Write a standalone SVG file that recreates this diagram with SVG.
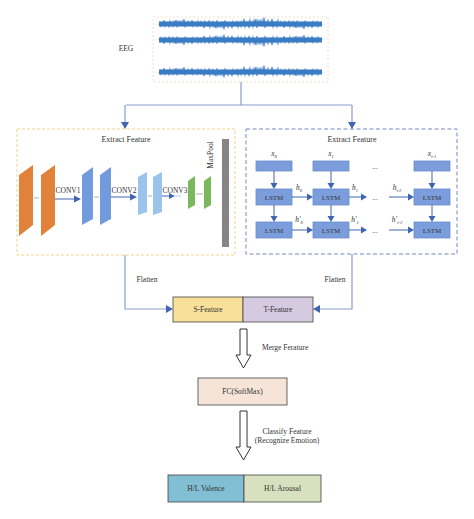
<svg xmlns="http://www.w3.org/2000/svg" width="474" height="519" viewBox="0 0 474 519">
<style>
text{font-family:"Liberation Serif","Times New Roman",serif;fill:#333;}
.t{font-size:7.5px;text-anchor:middle;}
.ti{font-size:7.5px;font-style:italic;text-anchor:middle;}
.ln{fill:none;stroke:#8b9dd0;stroke-width:1.2;}
.ar{fill:#3e64b2;}
.lstm{fill:#7c9ddb;stroke:#6b8cca;stroke-width:0.8;}
.dash{stroke:#999;stroke-width:0.8;}
.hol{fill:#fff;stroke:#333;stroke-width:1;}
.sig{fill:none;stroke:#3b7dc4;stroke-width:1;}
</style>
<defs>
<path id="seg" d="M0,0 l1,-2 1,3 1,-3 1,2 1,-4 1,5 1,-3 1,2 1,-2 1,4 1,-5 1,3 1,-2 1,3 1,-4 1,2 1,-3 1,6 1,-5 1,2 1,-2 1,3 1,-3 1,4 1,-6 1,7 1,-4 1,2 1,-3 1,3 1,-2 1,2 1,-4 1,5 1,-3 1,2 1,-2 1,3 1,-4 1,3"/>
<g id="trace">
<rect x="0" y="-2.5" width="163" height="5" fill="#3b7dc4"/>
<use href="#seg" class="sig" transform="translate(0,1) scale(1,1.2)"/>
<use href="#seg" class="sig" transform="translate(40,-1) scale(1,-1.3)"/>
<use href="#seg" class="sig" transform="translate(80,1) scale(1,1.5)"/>
<use href="#seg" class="sig" transform="translate(120,-1) scale(1,-1.2)"/>
<path d="M0,0 l1,2 1,-3 1,2" class="sig" transform="translate(160,0)"/>
</g>
</defs>

<g id="eeg">
<rect x="153" y="17" width="175" height="65" fill="#fff" stroke="#e8dcc0" stroke-width="0.8" stroke-dasharray="2,2"/>
<use href="#trace" transform="translate(159,24)"/>
<use href="#trace" transform="translate(159,40) scale(1,-1)"/>
<use href="#trace" transform="translate(159,72)"/>
<text x="126" y="51" class="t">EEG</text>
</g>

<g id="connectors">
<path class="ln" d="M241,82 V105 M126,105 H352 M125,105 V124 M352,105 V124"/>
<polygon class="ar" points="121,122 129,122 125,129"/>
<polygon class="ar" points="348,122 356,122 352,129"/>
<path class="ln" d="M125,255 V309 H167 M352,254 V309 H319"/>
<polygon class="ar" points="166,305 173,309 166,313"/>
<polygon class="ar" points="320,305 313,309 320,313"/>
<text x="147" y="282" class="t">Flatten</text>
<text x="335" y="282" class="t">Flatten</text>
<polygon class="hol" points="240,329 247,329 247,355 251,355 243.5,368 236,355 240,355"/>
<text x="262" y="350" style="font-size:7.5px">Merge Ferature</text>
<polygon class="hol" points="240,411 247,411 247,447 251,447 243.5,460 236,447 240,447"/>
<text x="287" y="434" class="t">Classify Feature</text>
<text x="287" y="443" class="t">(Recognize Emotion)</text>
</g>

<g id="cnn">
<rect x="17" y="129" width="218" height="126" fill="#fff" stroke="#f0d48a" stroke-width="1" stroke-dasharray="3,2"/>
<text x="126" y="142" class="t" style="font-size:8px">Extract Feature</text>
<polygon points="19,175 33,165 33,225 19,236" fill="#e0823a"/>
<polygon points="41,175 55,165 55,225 41,236" fill="#e0823a"/>
<line x1="34" y1="198" x2="39" y2="198" class="dash"/>
<text x="68" y="193" class="t">CONV1</text>
<line x1="55" y1="199" x2="75" y2="199" stroke="#3e64b2" stroke-width="1"/>
<polygon class="ar" points="74,195.5 81,199 74,202.5"/>
<polygon points="82,175 93,167 93,219 82,225" fill="#729bde"/>
<polygon points="100,175 111,167 111,219 100,225" fill="#729bde"/>
<line x1="94" y1="197" x2="99" y2="197" class="dash"/>
<text x="124" y="193" class="t">CONV2</text>
<line x1="111" y1="197" x2="131" y2="197" stroke="#3e64b2" stroke-width="1"/>
<polygon class="ar" points="130,193.5 137,197 130,200.5"/>
<polygon points="138,177 147,172 147,212 138,215" fill="#9cc3ec"/>
<polygon points="153,177 162,172 162,212 153,215" fill="#9cc3ec"/>
<line x1="148" y1="196" x2="152" y2="196" class="dash"/>
<text x="175" y="193" class="t">CONV3</text>
<line x1="162" y1="196" x2="170" y2="196" stroke="#3e64b2" stroke-width="1"/>
<polygon class="ar" points="169,193 175,196 169,199"/>
<line x1="175" y1="196" x2="181" y2="196" stroke="#9cc3ec" stroke-width="0.8"/>
<polygon points="188,181 195,176 195,205 188,209" fill="#7ab85c"/>
<polygon points="204,181 211,176 211,205 204,209" fill="#7ab85c"/>
<line x1="196" y1="194" x2="203" y2="194" class="dash"/>
<text transform="translate(213,155) rotate(-90)" class="t">MaxPool</text>
<rect x="222" y="139" width="7" height="108" fill="#858585"/>
</g>

<g id="lstm">
<rect x="246" y="129" width="211" height="125" fill="#fff" stroke="#7b88c4" stroke-width="1" stroke-dasharray="4,2.5"/>
<text x="352" y="142" class="t" style="font-size:8px">Extract Feature</text>
<text x="274" y="156" class="ti">x<tspan font-size="4.5" dy="1.5">0</tspan></text>
<text x="331" y="156" class="ti">x<tspan font-size="4.5" dy="1.5">1</tspan></text>
<text x="432" y="156" class="ti">x<tspan font-size="4.5" dy="1.5">t-1</tspan></text>
<rect x="256" y="161" width="36" height="10" class="lstm"/>
<rect x="313" y="161" width="36" height="10" class="lstm"/>
<rect x="414" y="161" width="36" height="10" class="lstm"/>
<text x="375" y="169" class="t">...</text>
<rect x="256" y="189" width="36" height="16" class="lstm"/>
<rect x="313" y="189" width="36" height="16" class="lstm"/>
<rect x="414" y="189" width="36" height="16" class="lstm"/>
<rect x="256" y="222" width="36" height="16" class="lstm"/>
<rect x="313" y="222" width="36" height="16" class="lstm"/>
<rect x="414" y="222" width="36" height="16" class="lstm"/>
<g class="t" style="font-size:7px">
<text x="274" y="200">LSTM</text><text x="331" y="200">LSTM</text><text x="432" y="200">LSTM</text>
<text x="274" y="233">LSTM</text><text x="331" y="233">LSTM</text><text x="432" y="233">LSTM</text>
</g>
<g stroke="#3e64b2" stroke-width="1">
<path d="M274,171 V184 M331,171 V184 M432,171 V184 M274,205 V217 M331,205 V217 M432,205 V217"/>
<path d="M292,197 H308 M349,197 H362 M389,197 H409 M292,230 H308 M349,230 H362 M389,230 H409"/>
</g>
<g class="ar">
<polygon points="270.5,183 277.5,183 274,189"/><polygon points="327.5,183 334.5,183 331,189"/><polygon points="428.5,183 435.5,183 432,189"/>
<polygon points="270.5,216 277.5,216 274,222"/><polygon points="327.5,216 334.5,216 331,222"/><polygon points="428.5,216 435.5,216 432,222"/>
<polygon points="307,193.5 313,197 307,200.5"/><polygon points="361,193.5 367,197 361,200.5"/><polygon points="408,193.5 414,197 408,200.5"/>
<polygon points="307,226.5 313,230 307,233.5"/><polygon points="361,226.5 367,230 361,233.5"/><polygon points="408,226.5 414,230 408,233.5"/>
</g>
<text x="375" y="200" class="t">...</text>
<text x="375" y="233" class="t">...</text>
<text x="299" y="190" class="ti">h<tspan font-size="4.5" dy="1.5">0</tspan></text>
<text x="355" y="190" class="ti">h<tspan font-size="4.5" dy="1.5">1</tspan></text>
<text x="397" y="190" class="ti">h<tspan font-size="4.5" dy="1.5">t-2</tspan></text>
<text x="299" y="222" class="ti">h'<tspan font-size="4.5" dy="1.5">0</tspan></text>
<text x="355" y="222" class="ti">h'<tspan font-size="4.5" dy="1.5">1</tspan></text>
<text x="397" y="222" class="ti">h'<tspan font-size="4.5" dy="1.5">t-2</tspan></text>
</g>

<g id="features">
<rect x="173" y="297" width="70" height="25" fill="#f8e09a" stroke="#444" stroke-width="0.8"/>
<rect x="243" y="297" width="70" height="25" fill="#d5cae0" stroke="#444" stroke-width="0.8"/>
<text x="208" y="312" class="t">S-Feature</text>
<text x="278" y="312" class="t">T-Feature</text>
</g>

<g id="fc">
<rect x="198" y="378" width="89" height="27" fill="#f6e4d8" stroke="#444" stroke-width="0.8"/>
<text x="242.5" y="394" class="t">FC(SoftMax)</text>
</g>

<g id="output">
<rect x="168" y="475" width="76" height="27" fill="#82bfd4" stroke="#444" stroke-width="0.8"/>
<rect x="244" y="475" width="77" height="27" fill="#d7e0bf" stroke="#444" stroke-width="0.8"/>
<text x="206" y="491" class="t">H/L Valence</text>
<text x="282.5" y="491" class="t">H/L Arousal</text>
</g>
</svg>
